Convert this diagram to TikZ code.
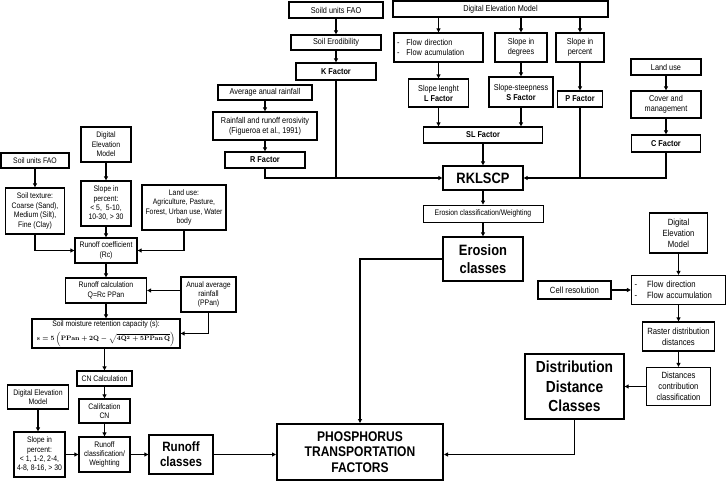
\documentclass[tikz,border=0pt]{standalone}
\usepackage[no-math]{fontspec}
\setmainfont{Liberation Sans}[FakeStretch=0.86]
\usepackage{graphicx}
\usepackage{tikz}
\usetikzlibrary{arrows.meta}
\newcommand{\linew}{1.2pt}
\newcommand{\boxw}{1.3pt}
\newcommand{\fsmall}{\fontsize{8.5}{10}\selectfont}
\newcommand{\fleft}{\fontsize{8}{9.4}\selectfont}
\newcommand{\fright}{\fontsize{9}{11}\selectfont}
\tikzset{
  box/.style={draw, line width=\boxw, align=center, inner sep=1pt, font=\fsmall},
  lbox/.style={box, font=\fleft},
  rbox/.style={box, font=\fright},
  bigbox/.style={box, font=\bfseries\fontsize{15}{18}\selectfont},
  arr/.style={line width=\linew, -{Triangle[length=4pt,width=4pt]}},
  ln/.style={line width=\linew},
}

\begin{document}
\begin{tikzpicture}[x=1pt,y=-1pt]
\useasboundingbox (0,0) rectangle (726,484);
% USLE factors
\node[box, minimum width=94, minimum height=16] (sfao) at (336,10) {Soild units FAO};
\node[box, minimum width=90, minimum height=15] (serod) at (336,42.5) {Soil Erodibility};
\node[box, minimum width=80, minimum height=17] (kf) at (336,71.5) {\textbf{K Factor}};
\node[box, minimum width=94, minimum height=15] (arain) at (265,92.5) {Average anual rainfall};
\node[box, minimum width=104, minimum height=28] (rero) at (265,126) {Rainfall and runoff erosivity\\(Figueroa et al., 1991)};
\node[box, minimum width=80, minimum height=16] (rf) at (265,160) {\textbf{R Factor}};
\node[box, minimum width=215, minimum height=16] (dem) at (500.5,9) {Digital Elevation Model};
\node[box, minimum width=89, minimum height=29, text width=83, inner xsep=3pt, align=left] (flow) at (438.5,47.5) {-\hspace{7pt}Flow direction\\-\hspace{7pt}Flow acumulation};
\node[box, minimum width=52, minimum height=29] (sdeg) at (521,47.5) {Slope in\\degrees};
\node[box, minimum width=48, minimum height=29] (sper) at (580,47.5) {Slope in\\percent};
\node[box, minimum width=60, minimum height=28] (lf) at (438.5,93) {Slope lenght\\\textbf{L Factor}};
\node[box, minimum width=64, minimum height=30] (sf) at (521,92) {Slope-steepness\\\textbf{S Factor}};
\node[box, minimum width=45, minimum height=16] (pf) at (580,99) {\textbf{P Factor}};
\node[box, minimum width=119, minimum height=16] (slf) at (483,135) {\textbf{SL Factor}};
\node[box, minimum width=70, minimum height=16] (luse) at (666,67) {Land use};
\node[box, minimum width=70, minimum height=27] (cman) at (666,104.5) {Cover and\\management};
\node[box, minimum width=69, minimum height=17] (cf) at (666,143.5) {\textbf{C Factor}};
\node[bigbox, minimum width=80, minimum height=24] (rk) at (483,178) {RKLSCP};
\node[box, line width=0.8pt, font=\fontsize{8}{9}\selectfont, minimum width=120, minimum height=17] (ecw) at (483,213.5) {Erosion classification/Weighting};
\node[bigbox, minimum width=80, minimum height=44] (ec) at (483,259) {Erosion\\classes};
\draw[arr] (sfao) -- (serod);
\draw[arr] (serod) -- (kf);
\draw[arr] (arain) -- (rero);
\draw[arr] (rero) -- (rf);
\draw[arr] (rf.south) |- (rk.west);
\draw[ln] (kf.south) -- (kf.south |- rk.west);
\draw[arr] (flow |- dem.south) -- (flow);
\draw[arr] (sdeg |- dem.south) -- (sdeg);
\draw[arr] (sper |- dem.south) -- (sper);
\draw[arr] (flow) -- (lf);
\draw[arr] (sdeg) -- (sf);
\draw[arr] (sper) -- (pf);
\draw[arr] (lf.south) -- (lf.south |- slf.north);
\draw[arr] (sf.south) -- (sf.south |- slf.north);
\draw[arr] (slf) -- (rk);
\draw[arr] (pf.south) |- (rk.east);
\draw[arr] (luse) -- (cman);
\draw[arr] (cman) -- (cf);
\draw[ln] (cf.south) |- (pf.south |- rk.east);
\draw[arr] (rk) -- (ecw);
\draw[arr] (ecw) -- (ec);
% runoff
\node[lbox, minimum width=68, minimum height=15] (sfao2) at (35,160.5) {Soil units FAO};
\node[lbox, minimum width=50, minimum height=35] (dem2) at (106,144.5) {Digital\\Elevation\\Model};
\node[lbox, minimum width=59, minimum height=46] (stex) at (35,211) {Soil texture:\\Coarse (Sand),\\Medium (Silt),\\Fine (Clay)};
\node[lbox, minimum width=50, minimum height=45] (sper2) at (106,203.5) {Slope in\\percent:\\< 5,\enspace 5-10,\\10-30, > 30};
\node[lbox, minimum width=84, minimum height=45] (lu2) at (184,207.5) {Land use:\\Agriculture, Pasture,\\Forest, Urban use, Water\\body};
\node[lbox, minimum width=62, minimum height=25] (rc) at (106,250.5) {Runoff coefficient\\(Rc)};
\node[lbox, minimum width=81, minimum height=25] (rcalc) at (106,290.5) {Runoff calculation\\Q=Rc PPan};
\node[lbox, minimum width=55, minimum height=35] (ppan) at (208.5,294.5) {Anual average\\rainfall\\(PPan)};
\node[lbox, minimum width=148, minimum height=29] (smr) at (106,333.5) {Soil moisture retention capacity (s):\\[3pt]\resizebox{138pt}{!}{\boldmath$\mathbf{s}=\mathbf{5}\left(\mathbf{PPan}+\mathbf{2Q}-\sqrt{\mathbf{4Q^2}+\mathbf{5PPan\,Q}}\right)$}};
\node[lbox, minimum width=55, minimum height=15] (cn) at (104.5,378.5) {CN Calculation};
\node[lbox, minimum width=61, minimum height=24] (dem3) at (38,397) {Digital Elevation\\Model};
\node[lbox, minimum width=51, minimum height=24] (calif) at (104.5,411) {Califcation\\CN};
\node[lbox, minimum width=51, minimum height=45] (sper3) at (39.5,454.5) {Slope in\\percent:\\< 1, 1-2, 2-4,\\4-8, 8-16, > 30};
\node[lbox, minimum width=51, minimum height=35] (rcw) at (104.5,454.5) {Runoff\\classification/\\Weighting};
\node[box, font=\bfseries\fontsize{13.5}{15}\selectfont, minimum width=64, minimum height=39] (rcls) at (181,454.5) {Runoff\\classes};
\node[box, line width=2pt, font=\bfseries\fontsize{14}{15.7}\selectfont, minimum width=166, minimum height=56] (ptf) at (360,452) {PHOSPHORUS\\TRANSPORTATION\\FACTORS};
\draw[arr] (sfao2) -- (stex);
\draw[arr] (dem2) -- (sper2);
\draw[arr] (stex.south) |- (rc.west);
\draw[arr] (lu2.south) |- (rc.east);
\draw[arr] (sper2) -- (rc);
\draw[arr] (rc) -- (rcalc);
\draw[arr] (ppan.west |- rcalc.east) -- (rcalc.east);
\draw[arr] (rcalc) -- (smr);
\draw[arr] (ppan.south) |- (smr.east);
\draw[arr] (cn |- smr.south) -- (cn);
\draw[arr] (cn) -- (calif);
\draw[arr] (calif) -- (rcw);
\draw[arr] (dem3.south) -- (dem3.south |- sper3.north);
\draw[arr] (sper3) -- (rcw);
\draw[arr] (rcw) -- (rcls);
\draw[arr] (rcls.east) -- (rcls.east -| ptf.west);
\draw[arr] (ec.west) -| (ptf.north);
% distances
\node[rbox, minimum width=58, minimum height=40] (dem4) at (678.5,233) {Digital\\Elevation\\Model};
\node[rbox, minimum width=94, minimum height=29, text width=88, inner xsep=3pt, align=left] (flow2) at (678.5,290) {-\hspace{10pt}Flow direction\\-\hspace{10pt}Flow accumulation};
\node[rbox, minimum width=73, minimum height=18] (cres) at (574.5,290) {Cell resolution};
\node[rbox, minimum width=72, minimum height=29] (rdd) at (678.5,336.5) {Raster distribution\\distances};
\node[rbox, minimum width=64, minimum height=38] (dcc) at (678.5,386.5) {Distances\\contribution\\classification};
\node[box, font=\bfseries\fontsize{16}{19.5}\selectfont, minimum width=99, minimum height=65] (ddc) at (574.5,386.5) {Distribution\\Distance\\Classes};
\draw[arr] (dem4) -- (flow2);
\draw[arr] (cres) -- (flow2);
\draw[arr] (flow2) -- (rdd);
\draw[arr] (rdd) -- (dcc);
\draw[arr] (dcc) -- (ddc);
\draw[arr] (ddc.south) |- (ptf.east |- rcls.east);
\end{tikzpicture}
\end{document}
